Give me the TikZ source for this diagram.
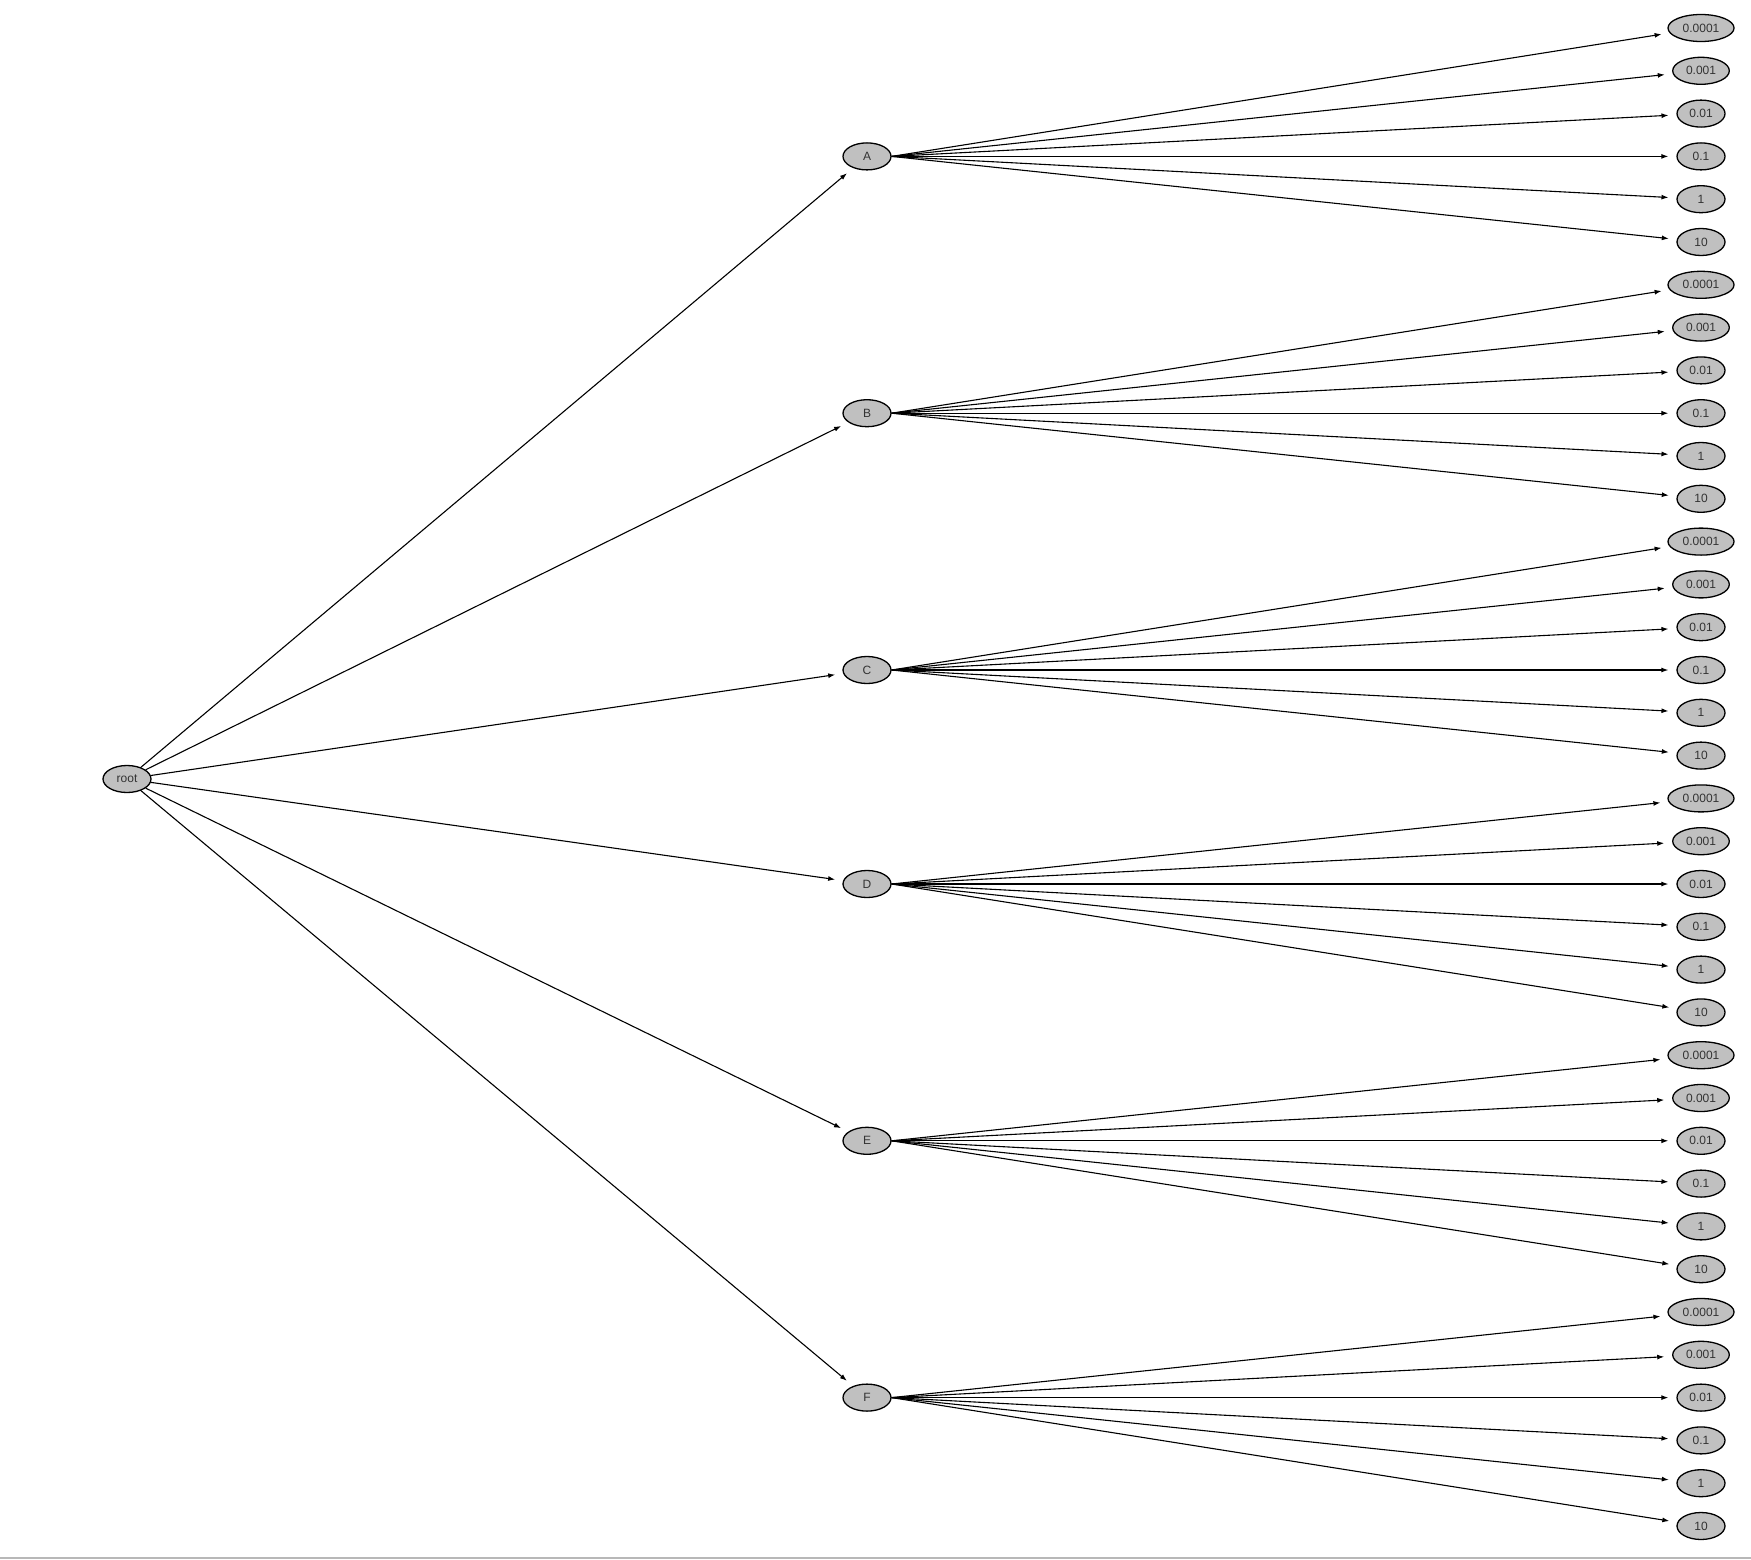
\documentclass[tikz,border=0pt]{standalone}
\usepackage{fontspec}
\setmainfont{Liberation Sans}
\usetikzlibrary{shapes.geometric,arrows.meta}
\definecolor{nodegray}{RGB}{192,192,192}

\begin{document}
\begin{tikzpicture}[x=1pt, y=-1pt,
    treenode/.style = {ellipse, draw=black, line width=1.3pt, fill=nodegray, text=black!80,
        font=\fontsize{12}{13}\selectfont, inner sep=5pt, minimum width=48pt, minimum height=27pt},
    branch/.style = {line width=1.1pt, -{Latex[length=7pt,width=5pt]}, shorten >=8pt}]
    \useasboundingbox (0,0) rectangle (1751,1560);
    \draw[color=black!28, line width=2pt] (0,1558) -- (1751,1558);
    \node[treenode] (root) at (127,779) {root};
    \foreach \g/\k in {A/3, B/9, C/15, D/20, E/26, F/32} {
        \node[treenode] (\g) at (867, {28+42.8*\k}) {\g};
        \draw[branch] (root) -- (\g);
    }
    %% six leaves per letter, all leaving from the east side
    \foreach \g [count=\n from 0] in {A,B,C,D,E,F} {
        \foreach \v [count=\i from 0] in {0.0001,0.001,0.01,0.1,1,10} {
            \node[treenode] (\g\i) at (1701, {28+42.8*(6*\n+\i)}) {\v};
            \draw[branch] (\g.east) -- (\g\i);
        }
    }
\end{tikzpicture}
\end{document}
